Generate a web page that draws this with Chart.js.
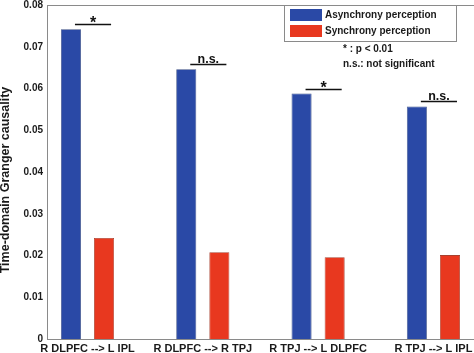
<!DOCTYPE html>
<html>
<head>
<meta charset="utf-8">
<script src="https://cdn.jsdelivr.net/npm/chart.js@4/dist/chart.umd.min.js"></script>
<style>
  html, body { margin: 0; padding: 0; background: #fff; overflow: hidden; }
  #wrap { width: 474px; height: 353px; position: relative; }
</style>
</head>
<body>
<div id="wrap"><canvas id="c" width="474" height="353"></canvas></div>
<script>
// ---- data ----
const categories = ['R DLPFC --> L IPL', 'R DLPFC --> R TPJ', 'R TPJ --> L DLPFC', 'R TPJ --> L IPL'];
const asynchrony = [0.0742, 0.0646, 0.0588, 0.0557];
const synchrony  = [0.0242, 0.0208, 0.0196, 0.0201];
const significance = ['*', 'n.s.', '*', 'n.s.'];
const seriesNames = ['Asynchrony perception', 'Synchrony perception'];
const notes = ['* : p < 0.01', 'n.s.: not significant'];
const yTicks = [0, 0.01, 0.02, 0.03, 0.04, 0.05, 0.06, 0.07, 0.08];
const yTitle = 'Time-domain Granger causality';

const BLUE = '#2a49a6';
const RED = '#e8381f';
const FONT = '"Liberation Sans", Arial, Helvetica, sans-serif';
const TEXT = '#1a1a1a';
const AXIS = '#8a8a8a';

const overlay = {
  id: 'overlay',
  afterDatasetsDraw(chart) {
    const ctx = chart.ctx;
    const ca = chart.chartArea;
    ctx.save();
    // top frame line
    ctx.strokeStyle = AXIS;
    ctx.lineWidth = 1;
    ctx.beginPath();
    ctx.moveTo(ca.left, Math.round(ca.top) + 0.5);
    ctx.lineTo(ca.right, Math.round(ca.top) + 0.5);
    ctx.stroke();

    // y-axis title
    ctx.save();
    ctx.translate(6, 180);
    ctx.rotate(-Math.PI / 2);
    ctx.font = 'bold 12.5px ' + FONT;
    ctx.fillStyle = TEXT;
    ctx.textAlign = 'center';
    ctx.textBaseline = 'middle';
    ctx.fillText(yTitle, 0, 0);
    ctx.restore();

    // significance markers
    const m0 = chart.getDatasetMeta(0), m1 = chart.getDatasetMeta(1);
    significance.forEach((s, i) => {
      const b = m0.data[i], r = m1.data[i];
      const x1 = b.x + 4;
      const x2 = r.x + r.width / 2 - 3;
      const y = Math.round(b.y - 5) + 0.5;
      ctx.strokeStyle = '#111';
      ctx.lineWidth = 1.6;
      ctx.beginPath();
      ctx.moveTo(x1, y);
      ctx.lineTo(x2, y);
      ctx.stroke();
      ctx.fillStyle = '#111';
      ctx.textAlign = 'center';
      ctx.textBaseline = 'alphabetic';
      if (s === '*') {
        ctx.font = 'bold 16px ' + FONT;
        ctx.fillText(s, (x1 + x2) / 2, y + 3);
      } else {
        ctx.font = 'bold 12.5px ' + FONT;
        ctx.fillText(s, (x1 + x2) / 2, y - 2);
      }
    });

    // legend box
    const lx = 284, ly = 5, lw = 172, lh = 36;
    ctx.fillStyle = '#fff';
    ctx.fillRect(lx, ly, lw, lh);
    ctx.strokeStyle = AXIS;
    ctx.lineWidth = 1;
    ctx.strokeRect(lx + 0.5, ly + 0.5, lw, lh);
    const cols = [BLUE, RED];
    seriesNames.forEach((n, i) => {
      const sy = ly + 4 + i * 16;
      ctx.fillStyle = cols[i];
      ctx.fillRect(lx + 6, sy, 32, 12);
      ctx.fillStyle = TEXT;
      ctx.font = 'bold 10px ' + FONT;
      ctx.textAlign = 'left';
      ctx.textBaseline = 'middle';
      ctx.fillText(n, lx + 41, sy + 6);
    });

    // notes
    ctx.font = 'bold 10px ' + FONT;
    ctx.fillStyle = TEXT;
    ctx.textAlign = 'left';
    ctx.textBaseline = 'middle';
    notes.forEach((t, i) => ctx.fillText(t, 343, 49 + i * 15));
    ctx.restore();
  }
};

const chart = new Chart(document.getElementById('c'), {
  type: 'bar',
  data: {
    datasets: [
      { label: seriesNames[0], data: asynchrony.map((v, i) => ({ x: i + 1, y: v })),
        backgroundColor: BLUE, borderColor: '#3b4f86', borderWidth: 0.8 },
      { label: seriesNames[1], data: synchrony.map((v, i) => ({ x: i + 1, y: v })),
        backgroundColor: RED, borderColor: '#a8412f', borderWidth: 0.8 }
    ]
  },
  options: {
    responsive: false,
    animation: false,
    devicePixelRatio: 1,
    layout: { padding: { top: 5, left: 0, right: 0, bottom: 0 } },
    categoryPercentage: 0.574,
    barPercentage: 0.606,
    plugins: { legend: { display: false }, tooltip: { enabled: false } },
    scales: {
      x: {
        type: 'linear',
        min: 0.6487,
        max: 4.352,
        offset: false,
        afterBuildTicks(scale) { scale.ticks = categories.map((c, i) => ({ value: i + 1 })); },
        afterFit(scale) { scale.height = 14; scale.paddingLeft = 0; scale.paddingRight = 0; },
        grid: { display: false, drawTicks: false },
        border: { display: true, color: AXIS, width: 1 },
        ticks: {
          autoSkip: false, maxRotation: 0, padding: 3, color: TEXT,
          font: { family: FONT, size: 11, weight: 'bold' },
          callback: (v) => categories[Math.round(v) - 1] || ''
        }
      },
      y: {
        min: 0,
        max: 0.08,
        afterBuildTicks(scale) { scale.ticks = yTicks.map(v => ({ value: v })); },
        afterFit(scale) { scale.width = 47; scale.paddingTop = 0; scale.paddingBottom = 0; },
        grid: { display: false, drawTicks: false },
        border: { display: true, color: AXIS, width: 1 },
        ticks: {
          padding: 4, color: TEXT,
          font: { family: FONT, size: 10, weight: 'bold' },
          callback: (v) => v === 0 ? '0' : v.toFixed(2)
        },
        title: { display: false }
      }
    }
  },
  plugins: [overlay]
});
</script>
</body>
</html>
